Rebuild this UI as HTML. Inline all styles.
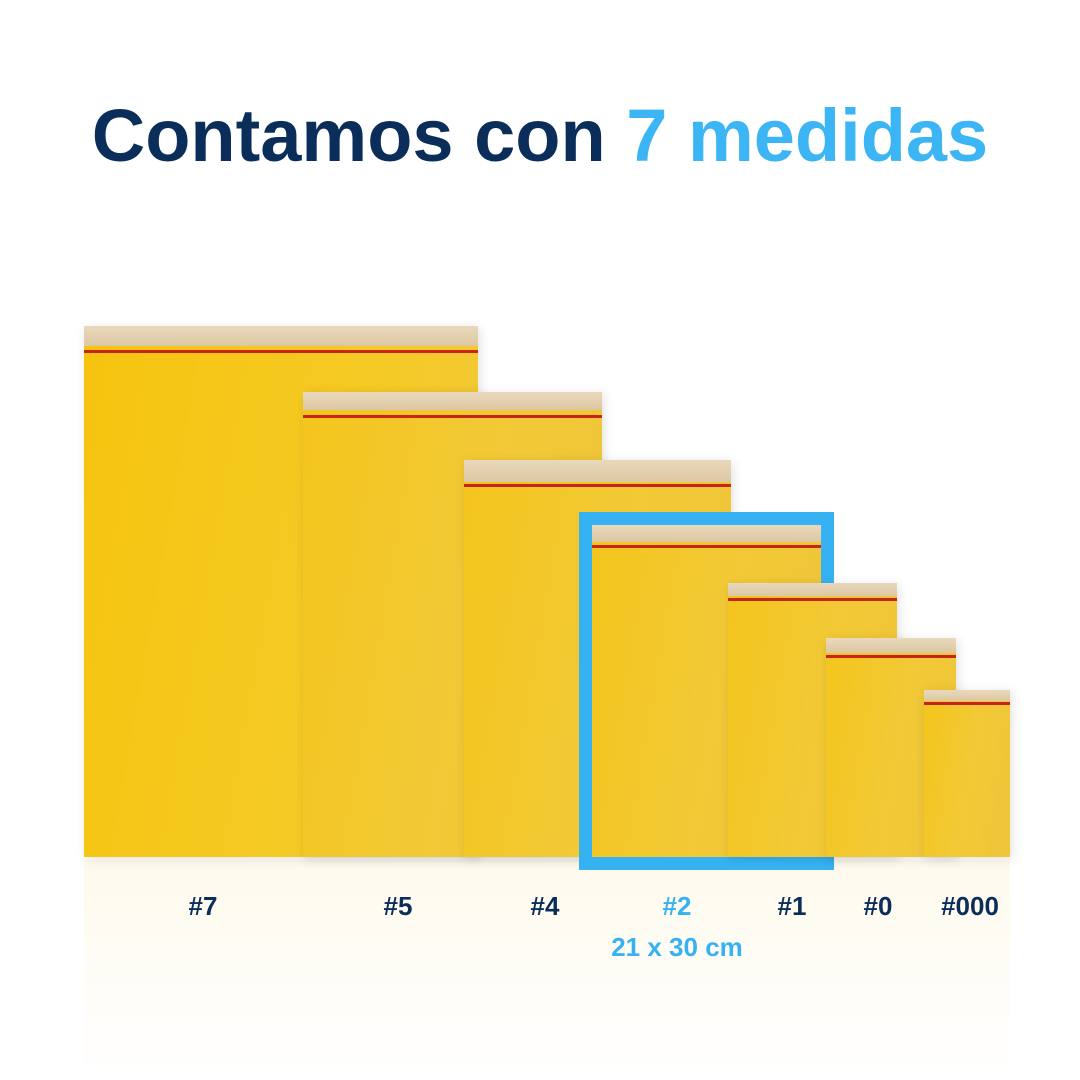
<!DOCTYPE html>
<html><head><style>
body{margin:0;width:1080px;height:1080px;background:#fff;position:relative;overflow:hidden;font-family:"Liberation Sans",sans-serif}
.t{position:absolute;top:93px;left:0;width:1080px;text-align:center;font-weight:bold;font-size:74px;color:#0b2d5a;letter-spacing:0px}
.t span{color:#3bb5f4}
.e{position:absolute;background:linear-gradient(100deg,#f4c51c,#f2c935 50%,#efc53a);box-shadow:2px 2px 10px rgba(0,0,0,0.12)}
.e .s{position:absolute;left:0;right:0;top:0;background:linear-gradient(#e9d9bc,#dcc7a2);}
.e .r{position:absolute;left:0;right:0;height:3px;background:#c9241c}
.rf{position:absolute;background:linear-gradient(rgba(250,230,170,0.22),rgba(255,255,255,0));}
.l{position:absolute;top:891px;font-weight:bold;font-size:26px;color:#0b2d5a;transform:translateX(-50%);white-space:nowrap}
</style></head><body>
<div class="t">Contamos con <span>7 medidas</span></div>

<div class="rf" style="left:84px;top:860px;width:926px;height:220px"></div>

<div class="e" style="left:84px;top:326px;width:394px;height:531px;background:linear-gradient(100deg,#f6c40e,#f5ca25 60%,#f0c83a)"><div class="s" style="height:20px"></div><div class="r" style="top:24px"></div></div>
<div class="e" style="left:303px;top:392px;width:299px;height:465px"><div class="s" style="height:18px"></div><div class="r" style="top:23px"></div></div>
<div class="e" style="left:464px;top:460px;width:267px;height:397px"><div class="s" style="height:22px"></div><div class="r" style="top:24px"></div></div>
<div style="position:absolute;left:579px;top:512px;width:255px;height:358px;background:#36b2f3"></div>
<div class="e" style="left:592px;top:525px;width:229px;height:332px;box-shadow:none"><div class="s" style="height:17px"></div><div class="r" style="top:20px"></div></div>
<div class="e" style="left:728px;top:583px;width:169px;height:274px"><div class="s" style="height:13px"></div><div class="r" style="top:15px"></div></div>
<div class="e" style="left:826px;top:638px;width:130px;height:219px"><div class="s" style="height:15px"></div><div class="r" style="top:17px"></div></div>
<div class="e" style="left:924px;top:690px;width:86px;height:167px"><div class="s" style="height:11px"></div><div class="r" style="top:12px"></div></div>

<div class="l" style="left:203px">#7</div>
<div class="l" style="left:398px">#5</div>
<div class="l" style="left:545px">#4</div>
<div class="l" style="left:677px;color:#36b2f3">#2</div>
<div class="l" style="left:792px">#1</div>
<div class="l" style="left:878px">#0</div>
<div class="l" style="left:970px">#000</div>
<div class="l" style="left:677px;top:932px;color:#36b2f3">21 x 30 cm</div>
</body></html>
